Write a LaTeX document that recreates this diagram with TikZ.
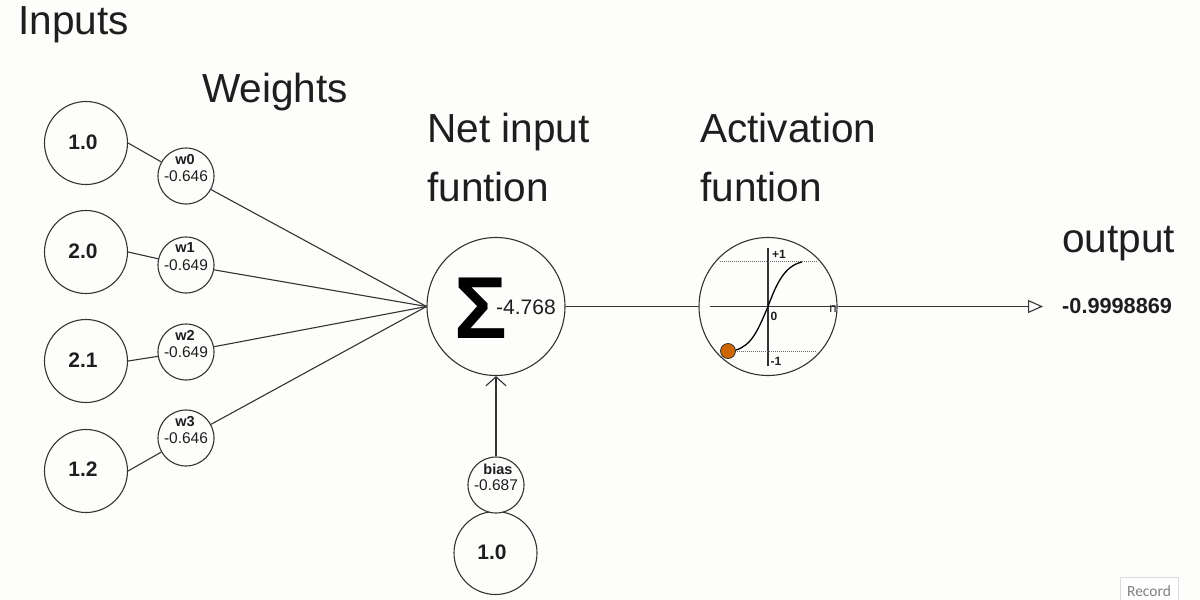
\documentclass[tikz,border=0pt]{standalone}
\usepackage{fontspec}
\setmainfont{Liberation Sans}
\newfontfamily\recfont{Carlito}
\usetikzlibrary{arrows.meta}
\newcommand{\fsz}[1]{\fontsize{#1}{#1}\selectfont}
\definecolor{ink}{HTML}{1E1E1E}
\definecolor{wire}{HTML}{333333}
\definecolor{paper}{HTML}{FDFDFB}
\definecolor{dotorange}{HTML}{CC6600}
\tikzset{
  wirestyle/.style={draw=wire,line width=1.1pt},
  ringstyle/.style={circle,draw=wire,line width=1.1pt,fill=paper,inner sep=0pt},
  inputnode/.style={ringstyle,minimum size=83pt},
  weightnode/.style={ringstyle,minimum size=56pt,font=\fsz{15.5},text=ink},
  bignode/.style={ringstyle,minimum size=138pt},
  weightname/.style={inner sep=0pt,font=\fsz{14.5}\bfseries,text=ink},
  valuetext/.style={inner sep=0pt,font=\fsz{21}\bfseries,text=ink},
  titletext/.style={inner sep=0pt,anchor=base west,font=\fsz{40.6},text=ink},
  ticktext/.style={inner sep=0pt,font=\fsz{12}\bfseries,text=ink},
}
\begin{document}
\begin{tikzpicture}[x=1pt,y=-1pt]
\useasboundingbox (0,0) rectangle (1200,600);
\fill[paper] (0,0) rectangle (1200,600);
% titles
\node[titletext] (tinputs) at (18,34) {Inputs};
\node[titletext] (tweights) at (202,102) {Weights};
\node[titletext] (tnet) at (427,142) {Net input};
\node[titletext] (tnet2) at (427,201) {funtion};
\node[titletext] (tact) at (700,142) {Activation};
\node[titletext] (tact2) at (700,201) {funtion};
\node[titletext] (toutput) at (1062,252) {output};
% main nodes
\node[inputnode] (i0) at (86,143) {};
\node[inputnode] (i1) at (86,252) {};
\node[inputnode] (i2) at (86,361) {};
\node[inputnode] (i3) at (86,471) {};
\node[inputnode] (ib) at (495.5,553) {};
\node[bignode] (sum) at (496,306.5) {};
\node[bignode] (act) at (768,306.5) {};
\coordinate (tip) at (1043,306.5);
% weight nodes
\node[weightnode] (w0) at (186,176) {-0.646};
\node[weightnode] (w1) at (186,265) {-0.649};
\node[weightnode] (w2) at (186,352) {-0.649};
\node[weightnode] (w3) at (186,438) {-0.646};
\node[weightnode] (wb) at (496,485) {-0.687};
% connectors
\draw[wirestyle] (i0.east) -- (w0);
\draw[wirestyle] (i1.east) -- (w1);
\draw[wirestyle] (i2.east) -- (w2);
\draw[wirestyle] (i3.east) -- (w3);
\draw[wirestyle] (w0) -- (sum.west);
\draw[wirestyle] (w1) -- (sum.west);
\draw[wirestyle] (w2) -- (sum.west);
\draw[wirestyle] (w3) -- (sum.west);
\draw[wirestyle] (sum.east) -- (act.west);
\draw[wirestyle,-{Triangle[open,length=15pt,width=13pt,line width=1.1pt]}] (act.east) -- (tip);
\draw[wirestyle,-{Straight Barb[length=9pt,width=20pt,line width=1.1pt]}] (wb) -- (sum.south);
% weight names
\node[weightname] (n0) at (185,160) {w0};
\node[weightname] (n1) at (185,248) {w1};
\node[weightname] (n2) at (185,335) {w2};
\node[weightname] (n3) at (185,422) {w3};
\node[weightname] (nb) at (498,469) {bias};
% input values
\node[valuetext] (v0) at (83,142) {1.0};
\node[valuetext] (v1) at (83,251) {2.0};
\node[valuetext] (v2) at (83,360) {2.1};
\node[valuetext] (v3) at (83,469) {1.2};
\node[valuetext] (vb) at (492,552) {1.0};
% sum
\node[inner sep=0pt,font=\fsz{88}\bfseries,text=black] (sigma) at (480.5,308) {Σ};
\node[inner sep=0pt,font=\fsz{21},text=ink] (sumv) at (526,307) {-4.768};
% activation plot
\draw[wirestyle] (710,306.5) -- (836,306.5);
\draw[wirestyle,line width=1.3pt] (768,248) -- (768,366);
\draw[black!60,line width=1pt,densely dotted] (720,261.5) -- (817,261.5);
\draw[black!60,line width=1pt,densely dotted] (735,351.5) -- (817,351.5);
\draw[black,line width=1.3pt] (736,350) .. controls (752,345) and (758,330) .. (768,306.5)
  .. controls (776,285) and (784,266) .. (802,262);
\fill[dotorange,draw=wire,line width=0.8pt] (728,351) circle (7.5pt);
\node[ticktext] (tp) at (779,254) {+1};
\node[ticktext] (tz) at (774,316) {0};
\node[ticktext] (tm) at (776,361) {-1};
\node[ticktext,font=\fsz{13}] (tn) at (833,309) {n};
% output
\node[inner sep=0pt,anchor=west,font=\fsz{21.7}\bfseries,text=ink] (out) at (1062,306) {-0.9998869};
% record
\draw[draw=black!14,line width=1pt,fill=white] (1120.5,605) -- (1120.5,577.5) -- (1178.5,577.5) -- (1178.5,605);
\node[inner sep=0pt,font=\recfont\fsz{15.5},text=black!50] (rec) at (1149,591.5) {Record};
\end{tikzpicture}
\end{document}
